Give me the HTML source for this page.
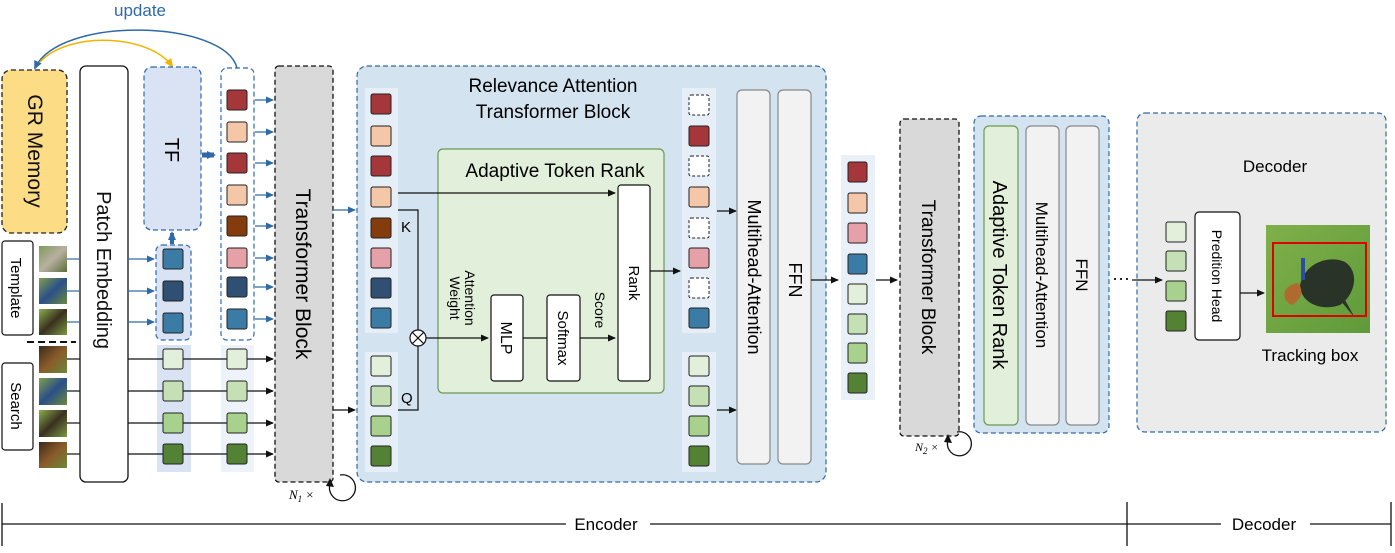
<!DOCTYPE html>
<html><head><meta charset="utf-8"><style>
html,body{margin:0;padding:0;background:#fff;}
svg{display:block;font-family:"Liberation Sans",sans-serif;}
</style></head><body>
<svg width="1395" height="553" viewBox="0 0 1395 553" xmlns="http://www.w3.org/2000/svg">
<defs>
<marker id="ab" markerWidth="8" markerHeight="8" refX="7" refY="4" orient="auto" markerUnits="userSpaceOnUse"><path d="M0,0.5 L8,4 L0,7.5 z" fill="#111"/></marker>
<marker id="abl" markerWidth="8" markerHeight="8" refX="7" refY="4" orient="auto" markerUnits="userSpaceOnUse"><path d="M0,0.5 L8,4 L0,7.5 z" fill="#2e6aa8"/></marker>
<marker id="ay" markerWidth="9" markerHeight="9" refX="7" refY="4.5" orient="auto" markerUnits="userSpaceOnUse"><path d="M0,0.5 L9,4.5 L0,8.5 z" fill="#f0b400"/></marker>
<marker id="abu" markerWidth="9" markerHeight="9" refX="7" refY="4.5" orient="auto" markerUnits="userSpaceOnUse"><path d="M0,0.5 L9,4.5 L0,8.5 z" fill="#2e6aa8"/></marker>
<linearGradient id="g1" x1="0" y1="0" x2="1" y2="1"><stop offset="0" stop-color="#7f9a5a"/><stop offset="0.5" stop-color="#b8b0a0"/><stop offset="1" stop-color="#5c6e3a"/></linearGradient>
<linearGradient id="g2" x1="0" y1="0" x2="1" y2="1"><stop offset="0" stop-color="#7fa04a"/><stop offset="0.5" stop-color="#2b4f8a"/><stop offset="1" stop-color="#6b8a3a"/></linearGradient>
<linearGradient id="g3" x1="0" y1="0" x2="1" y2="1"><stop offset="0" stop-color="#8ab04a"/><stop offset="0.5" stop-color="#3a3020"/><stop offset="1" stop-color="#7a9a40"/></linearGradient>
<linearGradient id="g4" x1="0" y1="0" x2="1" y2="1"><stop offset="0" stop-color="#3a2a1a"/><stop offset="0.5" stop-color="#8a5a2a"/><stop offset="1" stop-color="#6a8a3a"/></linearGradient>
<linearGradient id="gb" x1="0" y1="0" x2="1" y2="1"><stop offset="0" stop-color="#7fb04a"/><stop offset="1" stop-color="#5f9a3a"/></linearGradient>
</defs>

<text x="140" y="16" font-size="17" fill="#2e6aa8" text-anchor="middle">update</text>
<path d="M237,68 C225,20 60,15 35,68" fill="none" stroke="#2e6aa8" stroke-width="1.5" marker-end="url(#abu)"/>
<path d="M40,62 C70,30 150,35 172,66" fill="none" stroke="#f0b400" stroke-width="1.5" marker-end="url(#ay)"/>

<rect x="2" y="70" width="65" height="163" rx="9" fill="#fddc86" stroke="#222" stroke-width="1.3" stroke-dasharray="5,3"/>
<text transform="translate(28,151) rotate(90)" font-size="21" text-anchor="middle" fill="#111">GR Memory</text>

<rect x="80" y="66" width="48" height="416" rx="6" fill="#fff" stroke="#111" stroke-width="1.3"/>
<text transform="translate(97,270) rotate(90)" font-size="20" text-anchor="middle" fill="#111">Patch  Embedding</text>

<rect x="2" y="241" width="31" height="94" rx="3" fill="#fff" stroke="#111" stroke-width="1.2"/>
<text transform="translate(11,288) rotate(90)" font-size="15" text-anchor="middle">Template</text>
<rect x="2" y="363" width="31" height="87" rx="3" fill="#fff" stroke="#111" stroke-width="1.2"/>
<text transform="translate(11,406) rotate(90)" font-size="15" text-anchor="middle">Search</text>
<rect x="39" y="246" width="28" height="26" fill="url(#g1)"/>
<rect x="39" y="278" width="28" height="26" fill="url(#g2)"/>
<rect x="39" y="309" width="28" height="26" fill="url(#g3)"/>
<rect x="39" y="346" width="28" height="27" fill="url(#g4)"/>
<rect x="39" y="378" width="28" height="27" fill="url(#g2)"/>
<rect x="39" y="410" width="28" height="27" fill="url(#g3)"/>
<rect x="39" y="442" width="28" height="26" fill="url(#g4)"/>
<line x1="27" y1="342" x2="76" y2="342" stroke="#111" stroke-width="2" stroke-dasharray="7,4"/>
<g stroke="#2e6aa8" stroke-width="1.2">
<line x1="67" y1="259" x2="80" y2="259"/><line x1="67" y1="291" x2="80" y2="291"/><line x1="67" y1="322" x2="80" y2="322"/>
<line x1="128" y1="259" x2="154" y2="259" marker-end="url(#abl)"/><line x1="128" y1="291" x2="154" y2="291" marker-end="url(#abl)"/><line x1="128" y1="322" x2="154" y2="322" marker-end="url(#abl)"/>
</g>

<rect x="144" y="67" width="57" height="163" rx="8" fill="#dae3f3" stroke="#2e6aa8" stroke-width="1.2" stroke-dasharray="5,3"/>
<text transform="translate(165,150) rotate(90)" font-size="20" text-anchor="middle">TF</text>
<path d="M172,244 L172,233" stroke="#2e6aa8" stroke-width="4" marker-end="url(#abu)"/>
<path d="M202,155 L214,155" stroke="#2e6aa8" stroke-width="5" marker-end="url(#abu)"/>

<rect x="157" y="345" width="34" height="127" fill="#dae3f3"/>
<rect x="156" y="245" width="35" height="95" rx="6" fill="#dae3f3" stroke="#2e6aa8" stroke-width="1.2" stroke-dasharray="5,3"/>
<g stroke="#222" stroke-width="1">
<rect x="163" y="249" width="20" height="20" rx="2" fill="#3a7ca5"/>
<rect x="163" y="281" width="20" height="20" rx="2" fill="#2f4f73"/>
<rect x="163" y="313" width="20" height="20" rx="2" fill="#3a7ca5"/>
</g>
<rect x="221" y="345" width="33" height="127" fill="#eef3fa"/>
<rect x="221" y="68" width="33" height="272" rx="6" fill="#fff" stroke="#2e6aa8" stroke-width="1.2" stroke-dasharray="5,3"/>
<g stroke="#222" stroke-width="1">
<rect x="227" y="90" width="20" height="20" rx="2" fill="#a5373a"/>
<rect x="227" y="122" width="20" height="20" rx="2" fill="#f4c7a8"/>
<rect x="227" y="153" width="20" height="20" rx="2" fill="#a5373a"/>
<rect x="227" y="185" width="20" height="20" rx="2" fill="#f4c7a8"/>
<rect x="227" y="216" width="20" height="20" rx="2" fill="#843c0c"/>
<rect x="227" y="248" width="20" height="20" rx="2" fill="#e6a0a8"/>
<rect x="227" y="277" width="20" height="20" rx="2" fill="#2f4f73"/>
<rect x="227" y="309" width="20" height="20" rx="2" fill="#3a7ca5"/>
</g>
<g stroke="#2e6aa8" stroke-width="1.2">
<line x1="255" y1="100" x2="273" y2="100" marker-end="url(#abl)"/><line x1="255" y1="132" x2="273" y2="132" marker-end="url(#abl)"/>
<line x1="255" y1="163" x2="273" y2="163" marker-end="url(#abl)"/><line x1="255" y1="195" x2="273" y2="195" marker-end="url(#abl)"/>
<line x1="255" y1="226" x2="273" y2="226" marker-end="url(#abl)"/><line x1="255" y1="258" x2="273" y2="258" marker-end="url(#abl)"/>
<line x1="255" y1="287" x2="273" y2="287" marker-end="url(#abl)"/><line x1="255" y1="319" x2="273" y2="319" marker-end="url(#abl)"/>
</g>
<g stroke="#111" stroke-width="1.2">
<line x1="67" y1="359" x2="80" y2="359"/><line x1="67" y1="391" x2="80" y2="391"/><line x1="67" y1="423" x2="80" y2="423"/><line x1="67" y1="454" x2="80" y2="454"/>
<line x1="128" y1="359" x2="273" y2="359" marker-end="url(#ab)"/><line x1="128" y1="391" x2="273" y2="391" marker-end="url(#ab)"/>
<line x1="128" y1="423" x2="273" y2="423" marker-end="url(#ab)"/><line x1="128" y1="454" x2="273" y2="454" marker-end="url(#ab)"/>
</g>
<g stroke="#222" stroke-width="1">
<rect x="163" y="349" width="20" height="20" rx="2" fill="#e2efda"/><rect x="163" y="381" width="20" height="20" rx="2" fill="#c5e0b4"/>
<rect x="163" y="413" width="20" height="20" rx="2" fill="#a9d18e"/><rect x="163" y="444" width="20" height="20" rx="2" fill="#548235"/>
<rect x="227" y="349" width="20" height="20" rx="2" fill="#e2efda"/><rect x="227" y="381" width="20" height="20" rx="2" fill="#c5e0b4"/>
<rect x="227" y="413" width="20" height="20" rx="2" fill="#a9d18e"/><rect x="227" y="444" width="20" height="20" rx="2" fill="#548235"/>
</g>

<rect x="275" y="66" width="58" height="416" rx="4" fill="#d9d9d9" stroke="#111" stroke-width="1.3" stroke-dasharray="5,3"/>
<text transform="translate(296,274) rotate(90)" font-size="21" text-anchor="middle">Transformer Block</text>
<text x="289" y="499" font-size="13" font-style="italic" font-family="Liberation Serif,serif">N<tspan font-size="9" dy="3">1</tspan><tspan dy="-3"> ×</tspan></text>
<path d="M330,484 A13,13 0 1 0 340,475" fill="none" stroke="#111" stroke-width="1.3"/>
<path d="M326,486 L330,478 L334,487 z" fill="#111"/>
<line x1="333" y1="210" x2="355" y2="210" stroke="#2e6aa8" stroke-width="1.2" marker-end="url(#abl)"/>
<line x1="333" y1="410" x2="355" y2="410" stroke="#111" stroke-width="1.2" marker-end="url(#ab)"/>

<rect x="357" y="66" width="469" height="416" rx="10" fill="#d3e3ef" stroke="#2e6aa8" stroke-width="1.2" stroke-dasharray="5,3"/>
<text x="553" y="92" font-size="19" text-anchor="middle">Relevance  Attention</text>
<text x="553" y="118" font-size="19" text-anchor="middle">Transformer Block</text>
<rect x="365" y="88" width="33" height="245" fill="#e6eef7"/>
<rect x="365" y="352" width="33" height="120" fill="#e6eef7"/>
<g stroke="#222" stroke-width="1">
<rect x="371" y="94" width="20" height="20" rx="2" fill="#a5373a"/>
<rect x="371" y="126" width="20" height="20" rx="2" fill="#f4c7a8"/>
<rect x="371" y="156" width="20" height="20" rx="2" fill="#a5373a"/>
<rect x="371" y="187" width="20" height="20" rx="2" fill="#f4c7a8"/>
<rect x="371" y="218" width="20" height="20" rx="2" fill="#843c0c"/>
<rect x="371" y="248" width="20" height="20" rx="2" fill="#e6a0a8"/>
<rect x="371" y="278" width="20" height="20" rx="2" fill="#2f4f73"/>
<rect x="371" y="308" width="20" height="20" rx="2" fill="#3a7ca5"/>
<rect x="371" y="356" width="20" height="20" rx="2" fill="#e2efda"/>
<rect x="371" y="386" width="20" height="20" rx="2" fill="#c5e0b4"/>
<rect x="371" y="416" width="20" height="20" rx="2" fill="#a9d18e"/>
<rect x="371" y="446" width="20" height="20" rx="2" fill="#548235"/>
</g>
<rect x="438" y="149" width="226" height="244" rx="5" fill="#e2efda" stroke="#6a9a50" stroke-width="1.2"/>
<text x="555" y="177" font-size="19" text-anchor="middle">Adaptive Token Rank</text>
<rect x="618" y="185" width="32" height="196" rx="3" fill="#fff" stroke="#111" stroke-width="1.2"/>
<text transform="translate(629,283) rotate(90)" font-size="15" text-anchor="middle">Rank</text>
<rect x="491" y="295" width="32" height="86" rx="3" fill="#fff" stroke="#111" stroke-width="1.2"/>
<text transform="translate(501,338) rotate(90)" font-size="16" text-anchor="middle">MLP</text>
<rect x="547" y="295" width="33" height="86" rx="3" fill="#fff" stroke="#111" stroke-width="1.2"/>
<text transform="translate(558,338) rotate(90)" font-size="15" text-anchor="middle">Softmax</text>
<text transform="translate(465,298) rotate(90)" font-size="14" text-anchor="middle">Attention</text>
<text transform="translate(450,298) rotate(90)" font-size="14" text-anchor="middle">Weight</text>
<text transform="translate(595,310) rotate(90)" font-size="14" text-anchor="middle">Score</text>
<g stroke="#111" stroke-width="1.2" fill="none">
<line x1="398" y1="193" x2="615" y2="193" marker-end="url(#ab)"/>
<polyline points="398,210 418,210 418,330"/>
<polyline points="398,410 418,410 418,346"/>
<line x1="426" y1="338" x2="488" y2="338" marker-end="url(#ab)"/>
<line x1="523" y1="338" x2="547" y2="338"/>
<line x1="580" y1="338" x2="615" y2="338" marker-end="url(#ab)"/>
<line x1="650" y1="271" x2="680" y2="271" marker-end="url(#ab)"/>
<circle cx="418" cy="338" r="8" fill="#fff"/>
<line x1="412.5" y1="332.5" x2="423.5" y2="343.5"/><line x1="423.5" y1="332.5" x2="412.5" y2="343.5"/>
</g>
<text x="401" y="232" font-size="15">K</text>
<text x="401" y="403" font-size="15">Q</text>

<rect x="682" y="88" width="34" height="245" fill="#e6eef7"/>
<rect x="682" y="352" width="34" height="120" fill="#e6eef7"/>
<g stroke="#222" stroke-width="1">
<rect x="689" y="95" width="20" height="20" rx="2" fill="#fff" stroke-dasharray="3,2"/>
<rect x="689" y="126" width="20" height="20" rx="2" fill="#a5373a"/>
<rect x="689" y="156" width="20" height="20" rx="2" fill="#fff" stroke-dasharray="3,2"/>
<rect x="689" y="187" width="20" height="20" rx="2" fill="#f4c7a8"/>
<rect x="689" y="218" width="20" height="20" rx="2" fill="#fff" stroke-dasharray="3,2"/>
<rect x="689" y="248" width="20" height="20" rx="2" fill="#e6a0a8"/>
<rect x="689" y="278" width="20" height="20" rx="2" fill="#fff" stroke-dasharray="3,2"/>
<rect x="689" y="308" width="20" height="20" rx="2" fill="#3a7ca5"/>
<rect x="689" y="356" width="20" height="20" rx="2" fill="#e2efda"/>
<rect x="689" y="386" width="20" height="20" rx="2" fill="#c5e0b4"/>
<rect x="689" y="416" width="20" height="20" rx="2" fill="#a9d18e"/>
<rect x="689" y="446" width="20" height="20" rx="2" fill="#548235"/>
</g>
<line x1="717" y1="211" x2="736" y2="211" stroke="#111" stroke-width="1.2" marker-end="url(#ab)"/>
<line x1="717" y1="410" x2="736" y2="410" stroke="#111" stroke-width="1.2" marker-end="url(#ab)"/>
<rect x="737" y="90" width="33" height="374" rx="5" fill="#f2f2f2" stroke="#888" stroke-width="1.2"/>
<text transform="translate(748,277) rotate(90)" font-size="18" text-anchor="middle">Multihead-Attention</text>
<rect x="778" y="90" width="33" height="374" rx="5" fill="#f2f2f2" stroke="#888" stroke-width="1.2"/>
<text transform="translate(789,280) rotate(90)" font-size="18" text-anchor="middle">FFN</text>
<line x1="811" y1="280" x2="838" y2="280" stroke="#111" stroke-width="1.2" marker-end="url(#ab)"/>

<rect x="841" y="155" width="34" height="245" fill="#e9f0f8"/>
<g stroke="#222" stroke-width="1">
<rect x="848" y="162" width="19" height="20" rx="2" fill="#a5373a"/>
<rect x="848" y="193" width="19" height="20" rx="2" fill="#f4c7a8"/>
<rect x="848" y="223" width="19" height="20" rx="2" fill="#e6a0a8"/>
<rect x="848" y="254" width="19" height="20" rx="2" fill="#3a7ca5"/>
<rect x="848" y="284" width="19" height="20" rx="2" fill="#e2efda"/>
<rect x="848" y="314" width="19" height="20" rx="2" fill="#c5e0b4"/>
<rect x="848" y="343" width="19" height="20" rx="2" fill="#a9d18e"/>
<rect x="848" y="373" width="19" height="20" rx="2" fill="#548235"/>
</g>
<line x1="876" y1="280" x2="897" y2="280" stroke="#111" stroke-width="1.2" marker-end="url(#ab)"/>

<rect x="900" y="119" width="59" height="317" rx="4" fill="#d9d9d9" stroke="#111" stroke-width="1.3" stroke-dasharray="5,3"/>
<text transform="translate(922,277) rotate(90)" font-size="19" text-anchor="middle">Transformer Block</text>
<text x="915" y="451" font-size="12" font-style="italic" font-family="Liberation Serif,serif">N<tspan font-size="9" dy="3">2</tspan><tspan dy="-3"> ×</tspan></text>
<path d="M948,440 A12,12 0 1 0 957,432" fill="none" stroke="#111" stroke-width="1.3"/>
<path d="M944,442 L948,434 L952,443 z" fill="#111"/>

<rect x="974" y="116" width="135" height="317" rx="7" fill="#d3e3ef" stroke="#2e6aa8" stroke-width="1.2" stroke-dasharray="5,3"/>
<rect x="984" y="126" width="34" height="299" rx="5" fill="#e2efda" stroke="#6a9a50" stroke-width="1.2"/>
<text transform="translate(993,275) rotate(90)" font-size="20" text-anchor="middle">Adaptive Token Rank</text>
<rect x="1026" y="126" width="33" height="299" rx="5" fill="#f2f2f2" stroke="#888" stroke-width="1.2"/>
<text transform="translate(1036,275) rotate(90)" font-size="17" text-anchor="middle">Multihead-Attention</text>
<rect x="1066" y="126" width="33" height="299" rx="5" fill="#f2f2f2" stroke="#888" stroke-width="1.2"/>
<text transform="translate(1076,275) rotate(90)" font-size="17" text-anchor="middle">FFN</text>
<text x="1112" y="284" font-size="18">···</text>

<rect x="1137" y="113" width="249" height="319" rx="8" fill="#ebebeb" stroke="#2e6aa8" stroke-width="1.2" stroke-dasharray="5,3"/>
<line x1="1132" y1="280" x2="1162" y2="280" stroke="#111" stroke-width="1.2" marker-end="url(#ab)"/>
<text x="1275" y="172" font-size="17" text-anchor="middle">Decoder</text>
<g stroke="#222" stroke-width="1">
<rect x="1166" y="222" width="20" height="20" rx="2" fill="#e2efda"/>
<rect x="1166" y="251" width="20" height="20" rx="2" fill="#c5e0b4"/>
<rect x="1166" y="281" width="20" height="20" rx="2" fill="#a9d18e"/>
<rect x="1166" y="311" width="20" height="20" rx="2" fill="#548235"/>
</g>
<rect x="1195" y="212" width="45" height="128" rx="4" fill="#fff" stroke="#111" stroke-width="1.2"/>
<text transform="translate(1212,276) rotate(90)" font-size="14" text-anchor="middle">Predition Head</text>
<line x1="1240" y1="293" x2="1264" y2="293" stroke="#111" stroke-width="1.2" marker-end="url(#ab)"/>
<rect x="1266" y="225" width="104" height="108" fill="url(#gb)"/>
<path d="M1300,285 C1305,262 1330,255 1345,262 C1360,272 1355,295 1340,305 C1320,312 1300,302 1300,285z" fill="#2a3328"/>
<path d="M1298,283 C1282,285 1280,300 1292,305 C1300,300 1305,292 1298,283z" fill="#b06a30"/>
<path d="M1340,300 L1355,318 L1345,300z" fill="#2a3328"/>
<rect x="1301" y="258" width="4" height="22" fill="#2a4fa0"/>
<rect x="1273" y="243" width="93" height="73" fill="none" stroke="#e00000" stroke-width="2"/>
<text x="1310" y="361" font-size="17" text-anchor="middle">Tracking box</text>

<g stroke="#111" stroke-width="1.3">
<line x1="2" y1="524" x2="566" y2="524"/><line x1="650" y1="524" x2="1221" y2="524"/>
<line x1="1310" y1="524" x2="1391" y2="524"/>
<line x1="2" y1="503" x2="2" y2="546"/><line x1="1127" y1="502" x2="1127" y2="546"/><line x1="1391" y1="502" x2="1391" y2="546"/>
</g>
<text x="606" y="530" font-size="17" text-anchor="middle">Encoder</text>
<text x="1264" y="530" font-size="17" text-anchor="middle">Decoder</text>
</svg>
</body></html>
